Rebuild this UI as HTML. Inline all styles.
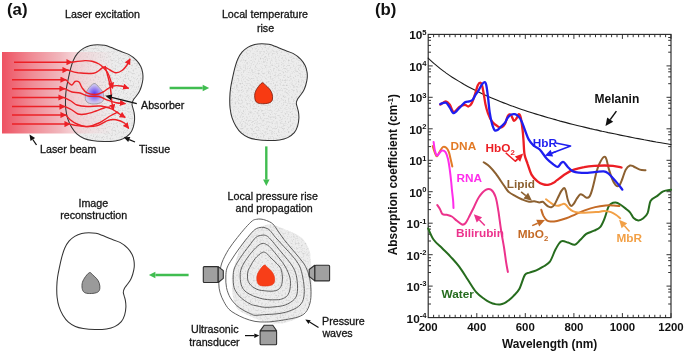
<!DOCTYPE html>
<html><head><meta charset="utf-8"><title>Photoacoustic imaging</title>
<style>html,body{margin:0;padding:0;background:#fff;width:685px;height:353px;overflow:hidden}svg{display:block;filter:blur(0.35px)}</style>
</head><body>
<svg width="685" height="353" viewBox="0 0 685 353">
<defs>
<linearGradient id="beam" x1="0" y1="0" x2="1" y2="0">
<stop offset="0" stop-color="rgb(238,82,98)"/>
<stop offset="0.27" stop-color="rgb(240,140,150)"/>
<stop offset="0.52" stop-color="rgb(241,183,189)"/>
<stop offset="0.66" stop-color="rgb(242,196,201)" stop-opacity="0.7"/>
<stop offset="1" stop-color="rgb(242,205,210)" stop-opacity="0"/>
</linearGradient>
<radialGradient id="abs" cx="0.5" cy="0.5" r="0.55">
<stop offset="0" stop-color="rgb(85,55,245)"/>
<stop offset="0.35" stop-color="rgb(140,115,240)"/>
<stop offset="0.75" stop-color="rgb(200,190,238)"/>
<stop offset="1" stop-color="rgb(215,208,235)"/>
</radialGradient>
<filter id="speck" x="0" y="0" width="1" height="1">
<feTurbulence type="fractalNoise" baseFrequency="0.6" numOctaves="2" seed="3" result="n"/>
<feColorMatrix in="n" type="matrix" values="0 0 0 0 0.55  0 0 0 0 0.55  0 0 0 0 0.55  0 0 0 -2.0 1.05" result="m"/>
<feComposite in="m" in2="SourceGraphic" operator="in" result="c"/>
<feMerge><feMergeNode in="SourceGraphic"/><feMergeNode in="c"/></feMerge>
</filter>
<marker id="ar" viewBox="0 0 10 10" refX="9" refY="5" markerWidth="6.6" markerHeight="6.2" orient="auto-start-reverse" markerUnits="userSpaceOnUse"><path d="M0,0 L10,5 L0,10 z" fill="rgb(236,32,38)"/></marker>
</defs>
<rect width="685" height="353" fill="#fff"/>
<path d="M97.5,44.7 C99.9,44.7 102.4,44.9 104.6,45.3 C106.8,45.7 108.4,46.4 110.7,47.3 C113.0,48.2 115.5,49.4 118.5,50.6 C121.5,51.8 125.7,52.8 128.7,54.4 C131.7,56.0 134.3,58.1 136.3,60.1 C138.3,62.1 139.7,64.4 140.8,66.5 C141.9,68.6 142.3,70.8 142.7,72.9 C143.0,75.0 143.1,77.1 142.9,79.3 C142.7,81.5 142.1,84.0 141.5,86.0 C140.9,88.0 140.4,89.5 139.5,91.2 C138.6,92.9 137.4,94.5 136.3,96.0 C135.2,97.5 133.9,98.8 133.2,100.2 C132.5,101.6 132.0,102.9 132.0,104.3 C132.0,105.7 132.7,107.0 133.0,108.4 C133.3,109.8 133.8,110.8 134.1,112.6 C134.4,114.4 134.7,116.6 134.6,119.0 C134.5,121.4 134.1,124.6 133.3,127.1 C132.5,129.5 131.7,131.8 130.0,133.7 C128.3,135.6 125.9,137.4 123.4,138.6 C120.9,139.8 118.5,140.4 115.2,140.9 C111.9,141.4 107.6,141.6 103.7,141.5 C99.8,141.4 95.2,141.0 91.9,140.5 C88.6,140.0 86.6,139.6 84.1,138.5 C81.6,137.4 79.2,136.1 77.1,134.2 C75.0,132.3 73.2,129.8 71.6,127.2 C70.0,124.6 68.7,121.6 67.7,118.6 C66.7,115.6 66.2,112.5 65.8,109.2 C65.4,105.9 65.4,101.9 65.5,98.5 C65.6,95.1 65.8,92.3 66.3,89.0 C66.8,85.7 67.6,82.1 68.3,78.7 C69.0,75.3 69.8,71.8 70.6,68.7 C71.4,65.6 72.2,62.8 73.4,60.2 C74.6,57.6 76.0,55.2 77.7,53.2 C79.4,51.2 81.3,49.7 83.4,48.4 C85.5,47.1 88.0,46.1 90.4,45.5 C92.7,44.9 95.1,44.7 97.5,44.7Z" fill="#ededed" stroke="none" filter="url(#speck)"/>
<rect x="2" y="52" width="112" height="81.5" fill="url(#beam)"/>
<path d="M97.5,44.7 C99.9,44.7 102.4,44.9 104.6,45.3 C106.8,45.7 108.4,46.4 110.7,47.3 C113.0,48.2 115.5,49.4 118.5,50.6 C121.5,51.8 125.7,52.8 128.7,54.4 C131.7,56.0 134.3,58.1 136.3,60.1 C138.3,62.1 139.7,64.4 140.8,66.5 C141.9,68.6 142.3,70.8 142.7,72.9 C143.0,75.0 143.1,77.1 142.9,79.3 C142.7,81.5 142.1,84.0 141.5,86.0 C140.9,88.0 140.4,89.5 139.5,91.2 C138.6,92.9 137.4,94.5 136.3,96.0 C135.2,97.5 133.9,98.8 133.2,100.2 C132.5,101.6 132.0,102.9 132.0,104.3 C132.0,105.7 132.7,107.0 133.0,108.4 C133.3,109.8 133.8,110.8 134.1,112.6 C134.4,114.4 134.7,116.6 134.6,119.0 C134.5,121.4 134.1,124.6 133.3,127.1 C132.5,129.5 131.7,131.8 130.0,133.7 C128.3,135.6 125.9,137.4 123.4,138.6 C120.9,139.8 118.5,140.4 115.2,140.9 C111.9,141.4 107.6,141.6 103.7,141.5 C99.8,141.4 95.2,141.0 91.9,140.5 C88.6,140.0 86.6,139.6 84.1,138.5 C81.6,137.4 79.2,136.1 77.1,134.2 C75.0,132.3 73.2,129.8 71.6,127.2 C70.0,124.6 68.7,121.6 67.7,118.6 C66.7,115.6 66.2,112.5 65.8,109.2 C65.4,105.9 65.4,101.9 65.5,98.5 C65.6,95.1 65.8,92.3 66.3,89.0 C66.8,85.7 67.6,82.1 68.3,78.7 C69.0,75.3 69.8,71.8 70.6,68.7 C71.4,65.6 72.2,62.8 73.4,60.2 C74.6,57.6 76.0,55.2 77.7,53.2 C79.4,51.2 81.3,49.7 83.4,48.4 C85.5,47.1 88.0,46.1 90.4,45.5 C92.7,44.9 95.1,44.7 97.5,44.7Z" fill="none" stroke="#333" stroke-width="1.05"/>
<path d="M94.0,83.5 C95.9,83.1 97.5,85.8 99.0,87.3 C100.5,88.8 102.2,90.8 103.0,92.8 C103.8,94.8 104.0,97.6 103.6,99.3 C103.2,101.0 102.3,102.0 100.5,102.8 C98.7,103.6 95.2,104.1 93.0,104.0 C90.8,103.9 88.3,103.2 87.0,102.0 C85.7,100.8 85.1,99.1 85.2,97.0 C85.3,94.9 86.3,91.8 87.8,89.5 C89.3,87.2 92.1,83.9 94.0,83.5Z" fill="url(#abs)" stroke="#909098" stroke-width="0.8"/>
<path d="M14.0,62.2 L72.0,62.2" stroke="rgb(236,32,38)" stroke-width="1.5" marker-end="url(#ar)"/>
<path d="M14.0,70.0 L68.0,70.0" stroke="rgb(236,32,38)" stroke-width="1.5" marker-end="url(#ar)"/>
<path d="M12.0,79.7 L66.0,79.7" stroke="rgb(236,32,38)" stroke-width="1.5" marker-end="url(#ar)"/>
<path d="M12.0,88.7 L65.0,88.7" stroke="rgb(236,32,38)" stroke-width="1.5" marker-end="url(#ar)"/>
<path d="M12.0,97.5 L64.0,97.5" stroke="rgb(236,32,38)" stroke-width="1.5" marker-end="url(#ar)"/>
<path d="M12.0,106.6 L65.0,106.6" stroke="rgb(236,32,38)" stroke-width="1.5" marker-end="url(#ar)"/>
<path d="M12.0,115.0 L66.0,115.0" stroke="rgb(236,32,38)" stroke-width="1.5" marker-end="url(#ar)"/>
<path d="M12.0,124.1 L70.0,124.1" stroke="rgb(236,32,38)" stroke-width="1.5" marker-end="url(#ar)"/>
<path d="M72.0,62.2 C74.2,61.9 81.7,60.8 85.0,60.6 C88.3,60.5 89.7,60.7 92.0,61.3 C94.3,61.9 97.1,62.9 99.0,64.0 C100.9,65.1 102.0,66.3 103.4,67.7 C104.8,69.1 106.4,70.5 107.6,72.5 C108.8,74.5 109.7,77.4 110.5,80.0 C111.3,82.6 112.2,86.9 112.6,88.3" fill="none" stroke="rgb(236,32,38)" stroke-width="1.4" marker-end="url(#ar)"/>
<path d="M68.0,70.0 C69.7,70.5 73.8,72.2 78.0,72.8 C82.2,73.3 90.0,73.7 93.5,73.3 C97.0,72.9 97.2,71.5 99.0,70.5 C100.8,69.5 102.2,67.1 104.0,67.0 C105.8,66.9 108.0,69.0 110.0,70.0 C112.0,71.0 114.0,72.7 116.0,72.8 C118.0,72.9 120.2,71.8 122.0,70.5 C123.8,69.2 125.7,67.0 127.0,65.0 C128.3,63.0 129.5,59.8 130.0,58.8" fill="none" stroke="rgb(236,32,38)" stroke-width="1.4" marker-end="url(#ar)"/>
<path d="M66.0,79.7 C66.9,80.6 70.0,84.7 71.5,85.0 C73.0,85.3 73.8,82.0 75.0,81.5 C76.2,81.0 77.8,81.0 79.0,82.0 C80.2,83.0 80.7,85.9 82.0,87.7 C83.3,89.5 84.7,91.7 87.0,92.8 C89.3,93.9 92.9,94.6 95.6,94.5 C98.3,94.4 100.9,93.0 103.0,92.0 C105.1,91.0 106.3,89.6 108.0,88.6 C109.7,87.6 110.8,86.4 113.0,86.0 C115.2,85.6 118.4,85.6 121.0,86.0 C123.6,86.4 127.4,87.9 128.7,88.3" fill="none" stroke="rgb(236,32,38)" stroke-width="1.4" marker-end="url(#ar)"/>
<path d="M65.0,88.7 C66.2,89.2 69.5,91.3 72.0,92.0 C74.5,92.7 77.3,92.3 80.0,93.0 C82.7,93.7 84.8,95.4 88.0,96.0 C91.2,96.6 95.8,95.8 99.0,96.5 C102.2,97.2 104.7,99.2 107.5,100.2 C110.3,101.2 113.0,102.1 116.0,102.7 C119.0,103.3 123.9,103.4 125.5,103.6" fill="none" stroke="rgb(236,32,38)" stroke-width="1.4" marker-end="url(#ar)"/>
<path d="M105.0,66.0 C105.4,67.5 106.7,71.8 107.5,75.0 C108.3,78.2 109.4,81.7 110.0,85.0 C110.6,88.3 110.9,92.2 111.2,95.0 C111.5,97.8 111.4,99.5 111.8,102.0 C112.2,104.5 113.2,108.7 113.5,110.0" fill="none" stroke="rgb(236,32,38)" stroke-width="1.4" marker-end="url(#ar)"/>
<path d="M64.0,97.5 C65.2,98.1 68.8,99.8 71.0,101.0 C73.2,102.2 74.3,104.1 77.0,105.0 C79.7,105.9 83.0,106.3 87.0,106.5 C91.0,106.7 96.7,105.6 100.7,106.0 C104.7,106.4 107.9,107.4 111.0,108.7 C114.1,110.0 117.0,112.3 119.4,113.8 C121.8,115.2 124.3,116.8 125.3,117.4" fill="none" stroke="rgb(236,32,38)" stroke-width="1.4" marker-end="url(#ar)"/>
<path d="M65.0,106.6 C66.2,107.2 69.8,108.8 72.0,110.0 C74.2,111.2 75.7,113.3 78.0,114.0 C80.3,114.7 83.0,114.5 86.0,114.0 C89.0,113.5 93.0,112.0 96.0,111.0 C99.0,110.0 101.7,108.7 104.0,108.0 C106.3,107.3 109.0,107.2 110.0,107.0" fill="none" stroke="rgb(236,32,38)" stroke-width="1.4" />
<path d="M66.0,115.0 C66.7,115.8 68.4,118.2 70.2,119.7 C72.0,121.2 74.5,122.9 77.0,124.0 C79.5,125.1 82.1,126.2 85.5,126.5 C88.9,126.8 93.7,126.6 97.4,125.6 C101.1,124.6 104.4,121.6 107.5,120.6 C110.6,119.6 113.2,119.3 116.0,119.7 C118.8,120.1 122.4,121.5 124.5,123.0 C126.6,124.5 128.0,127.6 128.7,128.5" fill="none" stroke="rgb(236,32,38)" stroke-width="1.4" marker-end="url(#ar)"/>
<path d="M70.0,124.1 C71.2,124.3 74.0,125.2 77.0,125.6 C80.0,126.0 84.3,126.9 88.0,126.5 C91.7,126.1 95.2,124.8 99.0,123.0 C102.8,121.2 107.8,117.3 111.0,115.5 C114.2,113.7 116.8,112.6 118.0,112.0" fill="none" stroke="rgb(236,32,38)" stroke-width="1.4" />
<path d="M136.8,103.6 L111.6,97.4" stroke="#111" stroke-width="1.30" fill="none"/><path d="M105.3,95.8 L112.3,94.5 L110.9,100.3 Z" fill="#111"/>
<path d="M135.0,142.0 L129.2,139.6" stroke="#111" stroke-width="1.30" fill="none"/><path d="M123.7,137.3 L130.3,137.1 L128.2,142.1 Z" fill="#111"/>
<path d="M36.5,145.0 L32.8,139.5" stroke="#111" stroke-width="1.30" fill="none"/><path d="M29.5,134.5 L35.1,138.0 L30.5,141.0 Z" fill="#111"/>
<text x="7.0" y="14.6" style='font-family:"Liberation Sans",Arial,sans-serif;font-size:16.8px;font-weight:bold;fill:#111' text-anchor="start">(a)</text>
<text x="102.5" y="18.1" style='font-family:"Liberation Sans",Arial,sans-serif;font-size:10.7px;font-weight:normal;fill:#151515;stroke:#151515;stroke-width:0.3px' text-anchor="middle">Laser excitation</text>
<text x="141.0" y="108.5" style='font-family:"Liberation Sans",Arial,sans-serif;font-size:10.7px;font-weight:normal;fill:#151515;stroke:#151515;stroke-width:0.3px' text-anchor="start">Absorber</text>
<text x="139.0" y="152.5" style='font-family:"Liberation Sans",Arial,sans-serif;font-size:10.7px;font-weight:normal;fill:#151515;stroke:#151515;stroke-width:0.3px' text-anchor="start">Tissue</text>
<text x="40.0" y="152.7" style='font-family:"Liberation Sans",Arial,sans-serif;font-size:10.7px;font-weight:normal;fill:#151515;stroke:#151515;stroke-width:0.3px' text-anchor="start">Laser beam</text>
<path d="M261.8,43.7 C264.2,43.7 266.7,43.9 268.9,44.3 C271.1,44.7 272.7,45.4 275.0,46.3 C277.3,47.2 279.8,48.4 282.8,49.6 C285.8,50.8 290.0,51.8 293.0,53.4 C296.0,55.0 298.6,57.1 300.6,59.1 C302.6,61.1 304.0,63.4 305.1,65.5 C306.2,67.6 306.6,69.8 307.0,71.9 C307.4,74.0 307.4,76.1 307.2,78.3 C307.0,80.5 306.4,83.0 305.8,85.0 C305.2,87.0 304.7,88.5 303.8,90.2 C302.9,91.9 301.7,93.5 300.6,95.0 C299.6,96.5 298.2,97.8 297.5,99.2 C296.8,100.6 296.3,101.9 296.3,103.3 C296.3,104.7 297.0,106.0 297.3,107.4 C297.6,108.8 298.1,109.8 298.4,111.6 C298.7,113.4 299.0,115.6 298.9,118.0 C298.8,120.4 298.4,123.6 297.6,126.1 C296.8,128.5 296.0,130.8 294.3,132.7 C292.6,134.6 290.2,136.4 287.7,137.6 C285.2,138.8 282.8,139.4 279.5,139.9 C276.2,140.4 271.9,140.6 268.0,140.5 C264.1,140.4 259.5,140.0 256.2,139.5 C252.9,139.0 250.9,138.6 248.4,137.5 C245.9,136.4 243.5,135.1 241.4,133.2 C239.3,131.3 237.5,128.8 235.9,126.2 C234.3,123.6 233.0,120.6 232.0,117.6 C231.0,114.6 230.5,111.5 230.1,108.2 C229.7,104.9 229.7,100.9 229.8,97.5 C229.9,94.1 230.1,91.3 230.6,88.0 C231.1,84.7 231.9,81.1 232.6,77.7 C233.3,74.3 234.1,70.8 234.9,67.7 C235.8,64.6 236.5,61.8 237.7,59.2 C238.9,56.6 240.3,54.2 242.0,52.2 C243.7,50.2 245.6,48.7 247.7,47.4 C249.8,46.1 252.3,45.1 254.7,44.5 C257.1,43.9 259.4,43.7 261.8,43.7Z" fill="#ededed" stroke="none" filter="url(#speck)"/>
<path d="M261.8,43.7 C264.2,43.7 266.7,43.9 268.9,44.3 C271.1,44.7 272.7,45.4 275.0,46.3 C277.3,47.2 279.8,48.4 282.8,49.6 C285.8,50.8 290.0,51.8 293.0,53.4 C296.0,55.0 298.6,57.1 300.6,59.1 C302.6,61.1 304.0,63.4 305.1,65.5 C306.2,67.6 306.6,69.8 307.0,71.9 C307.4,74.0 307.4,76.1 307.2,78.3 C307.0,80.5 306.4,83.0 305.8,85.0 C305.2,87.0 304.7,88.5 303.8,90.2 C302.9,91.9 301.7,93.5 300.6,95.0 C299.6,96.5 298.2,97.8 297.5,99.2 C296.8,100.6 296.3,101.9 296.3,103.3 C296.3,104.7 297.0,106.0 297.3,107.4 C297.6,108.8 298.1,109.8 298.4,111.6 C298.7,113.4 299.0,115.6 298.9,118.0 C298.8,120.4 298.4,123.6 297.6,126.1 C296.8,128.5 296.0,130.8 294.3,132.7 C292.6,134.6 290.2,136.4 287.7,137.6 C285.2,138.8 282.8,139.4 279.5,139.9 C276.2,140.4 271.9,140.6 268.0,140.5 C264.1,140.4 259.5,140.0 256.2,139.5 C252.9,139.0 250.9,138.6 248.4,137.5 C245.9,136.4 243.5,135.1 241.4,133.2 C239.3,131.3 237.5,128.8 235.9,126.2 C234.3,123.6 233.0,120.6 232.0,117.6 C231.0,114.6 230.5,111.5 230.1,108.2 C229.7,104.9 229.7,100.9 229.8,97.5 C229.9,94.1 230.1,91.3 230.6,88.0 C231.1,84.7 231.9,81.1 232.6,77.7 C233.3,74.3 234.1,70.8 234.9,67.7 C235.8,64.6 236.5,61.8 237.7,59.2 C238.9,56.6 240.3,54.2 242.0,52.2 C243.7,50.2 245.6,48.7 247.7,47.4 C249.8,46.1 252.3,45.1 254.7,44.5 C257.1,43.9 259.4,43.7 261.8,43.7Z" fill="none" stroke="#333" stroke-width="1.05"/>
<path d="M262.2,82.8 C263.6,82.3 264.3,84.2 265.5,85.2 C266.7,86.2 268.4,87.6 269.5,89.0 C270.6,90.4 271.5,91.8 272.0,93.5 C272.5,95.2 272.8,97.5 272.5,99.0 C272.2,100.5 271.7,101.6 270.3,102.4 C268.9,103.2 266.1,103.6 264.0,103.7 C261.9,103.8 259.5,103.7 258.0,103.1 C256.5,102.5 255.7,101.5 255.2,100.0 C254.7,98.5 254.5,96.0 254.8,94.0 C255.1,92.0 256.0,90.2 257.2,88.3 C258.4,86.4 260.8,83.3 262.2,82.8Z" fill="rgb(248,58,18)" stroke="#7a1c0c" stroke-width="0.8"/>
<text x="265.0" y="18.1" style='font-family:"Liberation Sans",Arial,sans-serif;font-size:10.7px;font-weight:normal;fill:#151515;stroke:#151515;stroke-width:0.3px' text-anchor="middle">Local temperature</text>
<text x="265.5" y="31.6" style='font-family:"Liberation Sans",Arial,sans-serif;font-size:10.7px;font-weight:normal;fill:#151515;stroke:#151515;stroke-width:0.3px' text-anchor="middle">rise</text>
<path d="M169.6,88.0 L202.7,88.0" stroke="rgb(64,189,80)" stroke-width="2.40" fill="none"/><path d="M209.2,88.0 L202.7,91.2 L202.7,84.8 Z" fill="rgb(64,189,80)"/>
<path d="M266.3,146.4 L266.3,179.6" stroke="rgb(64,189,80)" stroke-width="2.40" fill="none"/><path d="M266.3,186.1 L263.1,179.6 L269.6,179.6 Z" fill="rgb(64,189,80)"/>
<path d="M188.6,275.0 L155.4,275.0" stroke="rgb(64,189,80)" stroke-width="2.40" fill="none"/><path d="M148.9,275.0 L155.4,271.8 L155.4,278.2 Z" fill="rgb(64,189,80)"/>
<path d="M88.8,232.7 C91.2,232.7 93.7,232.9 95.9,233.3 C98.1,233.7 99.7,234.4 102.0,235.3 C104.3,236.2 106.8,237.4 109.8,238.6 C112.8,239.8 117.0,240.8 120.0,242.4 C123.0,244.0 125.6,246.1 127.6,248.1 C129.6,250.1 131.0,252.4 132.1,254.5 C133.2,256.6 133.7,258.8 134.0,260.9 C134.3,263.0 134.4,265.1 134.2,267.3 C134.0,269.5 133.4,272.0 132.8,274.0 C132.2,276.0 131.7,277.5 130.8,279.2 C129.9,280.9 128.7,282.5 127.6,284.0 C126.6,285.5 125.2,286.8 124.5,288.2 C123.8,289.6 123.3,290.9 123.3,292.3 C123.3,293.7 124.0,295.0 124.3,296.4 C124.7,297.8 125.1,298.8 125.4,300.6 C125.7,302.4 126.0,304.6 125.9,307.0 C125.8,309.4 125.4,312.7 124.6,315.1 C123.8,317.6 123.0,319.8 121.3,321.7 C119.7,323.6 117.2,325.4 114.7,326.6 C112.2,327.8 109.8,328.4 106.5,328.9 C103.2,329.4 98.9,329.6 95.0,329.5 C91.1,329.4 86.5,329.0 83.2,328.5 C79.9,328.0 77.9,327.6 75.4,326.5 C72.9,325.4 70.5,324.1 68.4,322.2 C66.3,320.3 64.5,317.8 62.9,315.2 C61.3,312.6 60.0,309.6 59.0,306.6 C58.0,303.6 57.5,300.6 57.1,297.2 C56.7,293.8 56.7,289.9 56.8,286.5 C56.9,283.1 57.1,280.3 57.6,277.0 C58.1,273.7 58.9,270.1 59.6,266.7 C60.3,263.3 61.1,259.8 61.9,256.7 C62.8,253.6 63.5,250.8 64.7,248.2 C65.9,245.6 67.3,243.2 69.0,241.2 C70.7,239.2 72.6,237.7 74.7,236.4 C76.8,235.1 79.3,234.1 81.7,233.5 C84.0,232.9 86.4,232.7 88.8,232.7Z" fill="#fff" stroke="#333" stroke-width="1.05"/>
<path d="M89.5,272.6 C90.9,272.1 91.6,274.0 92.8,275.0 C94.0,276.0 95.7,277.4 96.8,278.8 C97.9,280.2 98.8,281.6 99.3,283.3 C99.8,285.0 100.1,287.3 99.8,288.8 C99.5,290.3 99.0,291.4 97.6,292.2 C96.2,293.0 93.4,293.4 91.3,293.5 C89.3,293.6 86.8,293.5 85.3,292.9 C83.8,292.3 83.0,291.3 82.5,289.8 C82.0,288.3 81.8,285.8 82.1,283.8 C82.4,281.9 83.3,280.0 84.5,278.1 C85.7,276.2 88.1,273.1 89.5,272.6Z" fill="#9a9a9a" stroke="#4a4a4a" stroke-width="0.9"/>
<text x="93.3" y="206.8" style='font-family:"Liberation Sans",Arial,sans-serif;font-size:10.7px;font-weight:normal;fill:#151515;stroke:#151515;stroke-width:0.3px' text-anchor="middle">Image</text>
<text x="93.7" y="219.2" style='font-family:"Liberation Sans",Arial,sans-serif;font-size:10.7px;font-weight:normal;fill:#151515;stroke:#151515;stroke-width:0.3px' text-anchor="middle">reconstruction</text>
<text x="272.7" y="199.9" style='font-family:"Liberation Sans",Arial,sans-serif;font-size:10.7px;font-weight:normal;fill:#151515;stroke:#151515;stroke-width:0.3px' text-anchor="middle">Local pressure rise</text>
<text x="274.2" y="212.0" style='font-family:"Liberation Sans",Arial,sans-serif;font-size:10.7px;font-weight:normal;fill:#151515;stroke:#151515;stroke-width:0.3px' text-anchor="middle">and propagation</text>
<path d="M266.0,224.9 C268.4,224.2 269.2,223.9 272.2,224.6 C275.2,225.3 280.1,227.4 284.1,229.0 C288.1,230.6 292.6,232.1 296.0,234.1 C299.4,236.1 302.2,238.1 304.5,240.9 C306.8,243.7 308.6,248.0 309.6,251.1 C310.6,254.2 310.3,256.8 310.6,259.6 C310.9,262.4 311.2,263.8 311.5,268.0 C311.8,272.2 312.4,279.3 312.1,285.0 C311.8,290.7 311.1,297.5 309.8,302.0 C308.5,306.5 307.1,309.2 304.5,312.2 C301.9,315.2 298.6,317.9 294.3,319.8 C290.1,321.7 284.3,323.4 279.0,323.6 C273.7,323.8 267.6,322.3 262.6,321.0 C257.6,319.7 253.2,317.8 249.0,315.8 C244.8,313.8 240.2,312.1 237.5,309.0 C234.8,305.9 233.9,301.2 233.0,297.0 C232.1,292.8 231.9,287.8 231.8,284.0 C231.7,280.2 231.8,277.3 232.3,274.0 C232.8,270.7 233.6,268.5 235.0,264.0 C236.4,259.5 238.2,251.8 240.5,247.0 C242.8,242.2 246.2,238.6 249.0,235.5 C251.8,232.4 254.7,230.3 257.5,228.5 C260.3,226.7 263.6,225.6 266.0,224.9Z" fill="#ededed" stroke="none" filter="url(#speck)"/>
<path d="M261.0,219.1 C262.7,219.3 264.5,219.7 266.5,220.5 C268.5,221.3 270.9,222.2 272.8,223.9 C274.7,225.7 276.1,228.4 278.0,231.0 C279.9,233.6 281.8,236.7 284.0,239.5 C286.2,242.3 288.4,244.9 291.0,248.0 C293.6,251.1 297.0,254.8 299.4,257.9 C301.8,261.0 303.8,263.0 305.5,266.4 C307.2,269.8 308.8,273.8 309.7,278.0 C310.6,282.2 310.9,287.4 311.0,291.6 C311.1,295.8 310.9,299.5 310.0,303.0 C309.1,306.5 307.5,310.2 305.5,312.5 C303.5,314.8 301.4,315.8 298.0,317.0 C294.6,318.2 289.5,318.9 285.2,319.7 C280.9,320.5 275.4,321.2 272.0,321.6 C268.6,322.0 267.6,322.0 264.8,322.0 C262.0,322.0 258.4,322.0 255.0,321.4 C251.6,320.8 247.6,319.5 244.3,318.2 C241.0,316.9 238.0,315.3 235.4,313.8 C232.8,312.3 230.9,311.3 229.0,309.3 C227.1,307.3 225.4,304.5 223.9,301.7 C222.4,298.9 220.9,295.7 220.1,292.7 C219.2,289.7 218.9,286.8 218.8,283.8 C218.7,280.9 219.0,278.5 219.5,275.0 C220.0,271.5 220.3,267.3 221.8,263.0 C223.3,258.7 226.0,253.7 228.6,249.4 C231.2,245.2 234.6,241.1 237.4,237.5 C240.2,233.9 243.1,230.4 245.6,227.6 C248.1,224.8 250.6,222.2 252.4,220.8 C254.2,219.4 255.1,219.6 256.5,219.3 C257.9,219.0 259.3,218.9 261.0,219.1Z" fill="none" stroke="#5a5a5a" stroke-width="0.95"/>
<path d="M261.5,227.3 C263.3,227.1 264.6,227.6 266.0,228.1 C267.4,228.6 268.4,228.9 270.0,230.5 C271.6,232.1 273.2,234.8 275.6,237.5 C278.0,240.2 281.3,243.7 284.1,246.8 C286.9,249.9 290.0,253.0 292.6,256.2 C295.2,259.4 297.8,262.4 299.5,266.0 C301.2,269.6 302.1,273.7 302.9,278.0 C303.7,282.3 304.4,287.7 304.3,291.6 C304.2,295.5 303.8,298.8 302.5,301.5 C301.2,304.2 299.4,306.0 296.5,307.8 C293.6,309.6 288.8,311.4 285.2,312.4 C281.6,313.4 278.4,313.6 275.0,314.0 C271.6,314.4 268.1,314.4 264.8,314.6 C261.5,314.8 257.4,315.4 255.0,315.3 C252.7,315.2 252.7,314.7 250.7,313.8 C248.7,312.9 245.3,311.4 243.0,310.0 C240.7,308.6 238.8,307.5 236.7,305.5 C234.6,303.5 232.0,300.8 230.3,297.8 C228.6,294.8 227.2,291.1 226.5,287.6 C225.8,284.1 225.7,280.3 225.8,277.0 C225.9,273.7 226.0,271.0 227.0,268.0 C228.0,265.0 230.0,262.2 232.0,259.0 C234.0,255.8 236.2,252.6 238.8,249.0 C241.4,245.4 244.9,240.8 247.6,237.5 C250.3,234.2 252.7,231.2 255.0,229.5 C257.3,227.8 259.7,227.5 261.5,227.3Z" fill="none" stroke="#5a5a5a" stroke-width="0.95"/>
<path d="M262.0,235.2 C263.8,234.9 265.1,235.1 266.5,235.8 C267.9,236.5 268.4,236.9 270.5,239.2 C272.6,241.5 276.2,246.0 279.0,249.4 C281.8,252.8 285.1,256.5 287.5,259.6 C289.9,262.7 291.9,264.9 293.5,268.0 C295.1,271.1 296.2,274.1 296.8,278.0 C297.4,281.9 297.8,288.1 297.4,291.6 C297.0,295.2 296.3,297.1 294.3,299.3 C292.3,301.5 288.4,303.8 285.2,305.0 C282.0,306.2 278.4,306.4 275.0,306.8 C271.6,307.2 268.1,307.5 264.8,307.3 C261.5,307.1 257.4,306.0 255.0,305.5 C252.7,305.0 252.5,305.1 250.7,304.2 C248.9,303.3 246.3,301.9 244.3,300.4 C242.3,298.9 240.3,297.4 238.6,295.3 C236.9,293.2 235.0,290.7 234.1,287.6 C233.2,284.6 233.1,280.3 233.2,277.0 C233.3,273.7 233.3,271.2 234.5,268.0 C235.7,264.8 238.1,261.2 240.5,257.5 C242.9,253.8 246.4,249.3 249.0,246.0 C251.6,242.7 253.6,239.3 255.8,237.5 C258.0,235.7 260.2,235.5 262.0,235.2Z" fill="none" stroke="#5a5a5a" stroke-width="0.95"/>
<path d="M262.0,243.5 C263.8,243.0 265.1,243.8 266.5,244.5 C267.9,245.2 268.4,245.5 270.5,247.7 C272.6,249.9 276.5,254.7 279.0,257.9 C281.5,261.1 283.7,263.6 285.5,267.0 C287.3,270.4 289.2,274.4 290.0,278.0 C290.8,281.6 290.5,285.9 290.0,288.9 C289.5,291.8 288.6,294.0 287.2,295.7 C285.8,297.4 283.8,298.3 281.8,299.0 C279.8,299.7 277.8,299.8 275.0,299.8 C272.2,299.9 268.1,299.8 264.8,299.3 C261.5,298.8 257.1,297.3 255.0,296.6 C252.9,295.9 253.5,296.1 252.0,295.3 C250.5,294.6 247.9,293.6 246.2,292.1 C244.5,290.6 242.8,288.9 241.8,286.4 C240.8,283.9 240.2,280.1 240.2,277.0 C240.1,273.9 240.3,271.2 241.5,268.0 C242.7,264.8 244.9,261.3 247.3,257.9 C249.7,254.5 253.4,250.1 255.8,247.7 C258.2,245.3 260.2,244.0 262.0,243.5Z" fill="none" stroke="#5a5a5a" stroke-width="0.95"/>
<path d="M262.2,252.5 C264.1,251.6 265.0,252.4 266.5,253.3 C268.0,254.2 269.2,256.2 271.0,258.0 C272.8,259.8 275.4,262.0 277.0,263.8 C278.6,265.6 279.9,266.4 280.8,268.6 C281.7,270.8 282.3,274.3 282.4,277.0 C282.5,279.7 282.3,282.7 281.6,284.8 C280.9,286.9 280.0,288.4 278.4,289.5 C276.8,290.6 274.3,291.0 272.0,291.2 C269.7,291.4 267.0,291.0 264.8,290.8 C262.6,290.6 260.6,290.4 259.0,290.0 C257.4,289.6 256.4,289.1 255.0,288.3 C253.6,287.5 251.9,286.5 250.7,285.1 C249.5,283.7 248.3,282.2 247.8,280.0 C247.3,277.8 247.4,274.3 247.8,272.0 C248.2,269.7 249.3,268.2 250.5,266.0 C251.7,263.8 253.2,260.8 255.2,258.5 C257.1,256.2 260.3,253.4 262.2,252.5Z" fill="none" stroke="#5a5a5a" stroke-width="0.95"/>
<path d="M264.3,265.1 C265.7,264.6 266.4,266.5 267.6,267.5 C268.8,268.5 270.5,269.9 271.6,271.3 C272.7,272.7 273.6,274.1 274.1,275.8 C274.6,277.5 274.9,279.8 274.6,281.3 C274.3,282.8 273.8,283.9 272.4,284.7 C271.0,285.5 268.2,285.9 266.1,286.0 C264.1,286.1 261.6,286.0 260.1,285.4 C258.6,284.8 257.8,283.8 257.3,282.3 C256.8,280.8 256.6,278.2 256.9,276.3 C257.2,274.4 258.1,272.5 259.3,270.6 C260.5,268.7 262.9,265.6 264.3,265.1Z" fill="rgb(248,62,24)" stroke="rgb(225,55,25)" stroke-width="0.6"/>
<rect x="203.3" y="266.6" width="14.9" height="15.9" rx="1" fill="#a0a0a0" stroke="#2e2e2e" stroke-width="1.1" stroke-linejoin="round"/>
<path d="M218.2,266.6 L223.3,270.6 L223.3,278.3 L218.2,282.5 Z" fill="#a4a4a4" stroke="#2e2e2e" stroke-width="1.1" stroke-linejoin="round"/>
<rect x="314.7" y="265.2" width="14.9" height="15.7" rx="1" fill="#a0a0a0" stroke="#2e2e2e" stroke-width="1.1" stroke-linejoin="round"/>
<path d="M314.7,265.2 L309.2,269.5 L309.2,276.3 L314.7,280.9 Z" fill="#a4a4a4" stroke="#2e2e2e" stroke-width="1.1" stroke-linejoin="round"/>
<rect x="260.1" y="330.8" width="16.5" height="13.9" rx="1" fill="#a0a0a0" stroke="#2e2e2e" stroke-width="1.1" stroke-linejoin="round"/>
<path d="M260.1,330.8 L264.3,325.2 L272.8,325.2 L276.6,330.8 Z" fill="#a4a4a4" stroke="#2e2e2e" stroke-width="1.1" stroke-linejoin="round"/>
<path d="M245.0,335.6 L254.3,335.6" stroke="#111" stroke-width="1.20" fill="none"/><path d="M259.3,335.6 L254.3,337.9 L254.3,333.4 Z" fill="#111"/>
<path d="M318.5,327.4 L309.6,322.1" stroke="#111" stroke-width="1.20" fill="none"/><path d="M305.3,319.6 L310.7,320.2 L308.5,324.1 Z" fill="#111"/>
<text x="191.0" y="332.7" style='font-family:"Liberation Sans",Arial,sans-serif;font-size:10.7px;font-weight:normal;fill:#151515;stroke:#151515;stroke-width:0.3px' text-anchor="start">Ultrasonic</text>
<text x="189.2" y="345.5" style='font-family:"Liberation Sans",Arial,sans-serif;font-size:10.7px;font-weight:normal;fill:#151515;stroke:#151515;stroke-width:0.3px' text-anchor="start">transducer</text>
<text x="322.0" y="325.1" style='font-family:"Liberation Sans",Arial,sans-serif;font-size:10.7px;font-weight:normal;fill:#151515;stroke:#151515;stroke-width:0.3px' text-anchor="start">Pressure</text>
<text x="322.4" y="337.3" style='font-family:"Liberation Sans",Arial,sans-serif;font-size:10.7px;font-weight:normal;fill:#151515;stroke:#151515;stroke-width:0.3px' text-anchor="start">waves</text>
<text x="375.0" y="15.0" style='font-family:"Liberation Sans",Arial,sans-serif;font-size:16.8px;font-weight:bold;fill:#111' text-anchor="start">(b)</text>
<path d="M433.6,317.6v-2.8 M433.6,34.4v2.8 M439.0,317.6v-2.8 M439.0,34.4v2.8 M444.4,317.6v-2.8 M444.4,34.4v2.8 M449.8,317.6v-2.8 M449.8,34.4v2.8 M455.2,317.6v-2.8 M455.2,34.4v2.8 M460.6,317.6v-2.8 M460.6,34.4v2.8 M466.0,317.6v-2.8 M466.0,34.4v2.8 M471.4,317.6v-2.8 M471.4,34.4v2.8 M476.8,317.6v-4.5 M476.8,34.4v4.5 M482.2,317.6v-2.8 M482.2,34.4v2.8 M487.6,317.6v-2.8 M487.6,34.4v2.8 M492.9,317.6v-2.8 M492.9,34.4v2.8 M498.3,317.6v-2.8 M498.3,34.4v2.8 M503.7,317.6v-2.8 M503.7,34.4v2.8 M509.1,317.6v-2.8 M509.1,34.4v2.8 M514.5,317.6v-2.8 M514.5,34.4v2.8 M519.9,317.6v-2.8 M519.9,34.4v2.8 M525.3,317.6v-4.5 M525.3,34.4v4.5 M530.7,317.6v-2.8 M530.7,34.4v2.8 M536.1,317.6v-2.8 M536.1,34.4v2.8 M541.5,317.6v-2.8 M541.5,34.4v2.8 M546.9,317.6v-2.8 M546.9,34.4v2.8 M552.3,317.6v-2.8 M552.3,34.4v2.8 M557.7,317.6v-2.8 M557.7,34.4v2.8 M563.1,317.6v-2.8 M563.1,34.4v2.8 M568.5,317.6v-2.8 M568.5,34.4v2.8 M573.9,317.6v-4.5 M573.9,34.4v4.5 M579.3,317.6v-2.8 M579.3,34.4v2.8 M584.7,317.6v-2.8 M584.7,34.4v2.8 M590.1,317.6v-2.8 M590.1,34.4v2.8 M595.5,317.6v-2.8 M595.5,34.4v2.8 M600.9,317.6v-2.8 M600.9,34.4v2.8 M606.3,317.6v-2.8 M606.3,34.4v2.8 M611.6,317.6v-2.8 M611.6,34.4v2.8 M617.0,317.6v-2.8 M617.0,34.4v2.8 M622.4,317.6v-4.5 M622.4,34.4v4.5 M627.8,317.6v-2.8 M627.8,34.4v2.8 M633.2,317.6v-2.8 M633.2,34.4v2.8 M638.6,317.6v-2.8 M638.6,34.4v2.8 M644.0,317.6v-2.8 M644.0,34.4v2.8 M649.4,317.6v-2.8 M649.4,34.4v2.8 M654.8,317.6v-2.8 M654.8,34.4v2.8 M660.2,317.6v-2.8 M660.2,34.4v2.8 M665.6,317.6v-2.8 M665.6,34.4v2.8 M671.0,317.6v-4.5 M671.0,34.4v4.5 M428.2,286.1h4.5 M671.0,286.1h-4.5 M428.2,289.2h2.8 M671.0,289.2h-2.8 M428.2,292.0h2.8 M671.0,292.0h-2.8 M428.2,297.1h2.8 M671.0,297.1h-2.8 M428.2,304.0h2.8 M671.0,304.0h-2.8 M428.2,254.7h4.5 M671.0,254.7h-4.5 M428.2,257.8h2.8 M671.0,257.8h-2.8 M428.2,260.6h2.8 M671.0,260.6h-2.8 M428.2,265.7h2.8 M671.0,265.7h-2.8 M428.2,272.5h2.8 M671.0,272.5h-2.8 M428.2,223.2h4.5 M671.0,223.2h-4.5 M428.2,226.3h2.8 M671.0,226.3h-2.8 M428.2,229.1h2.8 M671.0,229.1h-2.8 M428.2,234.2h2.8 M671.0,234.2h-2.8 M428.2,241.0h2.8 M671.0,241.0h-2.8 M428.2,191.7h4.5 M671.0,191.7h-4.5 M428.2,194.8h2.8 M671.0,194.8h-2.8 M428.2,197.6h2.8 M671.0,197.6h-2.8 M428.2,202.7h2.8 M671.0,202.7h-2.8 M428.2,209.6h2.8 M671.0,209.6h-2.8 M428.2,160.3h4.5 M671.0,160.3h-4.5 M428.2,163.4h2.8 M671.0,163.4h-2.8 M428.2,166.2h2.8 M671.0,166.2h-2.8 M428.2,171.3h2.8 M671.0,171.3h-2.8 M428.2,178.1h2.8 M671.0,178.1h-2.8 M428.2,128.8h4.5 M671.0,128.8h-4.5 M428.2,131.9h2.8 M671.0,131.9h-2.8 M428.2,134.7h2.8 M671.0,134.7h-2.8 M428.2,139.8h2.8 M671.0,139.8h-2.8 M428.2,146.6h2.8 M671.0,146.6h-2.8 M428.2,97.3h4.5 M671.0,97.3h-4.5 M428.2,100.4h2.8 M671.0,100.4h-2.8 M428.2,103.2h2.8 M671.0,103.2h-2.8 M428.2,108.3h2.8 M671.0,108.3h-2.8 M428.2,115.2h2.8 M671.0,115.2h-2.8 M428.2,65.9h4.5 M671.0,65.9h-4.5 M428.2,69.0h2.8 M671.0,69.0h-2.8 M428.2,71.8h2.8 M671.0,71.8h-2.8 M428.2,76.9h2.8 M671.0,76.9h-2.8 M428.2,83.7h2.8 M671.0,83.7h-2.8 M428.2,37.5h2.8 M671.0,37.5h-2.8 M428.2,40.3h2.8 M671.0,40.3h-2.8 M428.2,45.4h2.8 M671.0,45.4h-2.8 M428.2,52.2h2.8 M671.0,52.2h-2.8" stroke="#333" stroke-width="1" fill="none"/>
<rect x="428.2" y="34.4" width="242.8" height="283.2" fill="none" stroke="#2a2a2a" stroke-width="1.15"/>
<text x="428.2" y="330.8" style='font-family:"Liberation Sans",Arial,sans-serif;font-size:11.4px;font-weight:bold;fill:#111' text-anchor="middle">200</text>
<text x="476.8" y="330.8" style='font-family:"Liberation Sans",Arial,sans-serif;font-size:11.4px;font-weight:bold;fill:#111' text-anchor="middle">400</text>
<text x="525.3" y="330.8" style='font-family:"Liberation Sans",Arial,sans-serif;font-size:11.4px;font-weight:bold;fill:#111' text-anchor="middle">600</text>
<text x="573.9" y="330.8" style='font-family:"Liberation Sans",Arial,sans-serif;font-size:11.4px;font-weight:bold;fill:#111' text-anchor="middle">800</text>
<text x="622.4" y="330.8" style='font-family:"Liberation Sans",Arial,sans-serif;font-size:11.4px;font-weight:bold;fill:#111' text-anchor="middle">1000</text>
<text x="671.0" y="330.8" style='font-family:"Liberation Sans",Arial,sans-serif;font-size:11.4px;font-weight:bold;fill:#111' text-anchor="middle">1200</text>
<text x="426.5" y="322.5" style='font-family:"Liberation Sans",Arial,sans-serif;font-size:11.8px;font-weight:bold;fill:#111' text-anchor="end">10<tspan dy="-4.6" style="font-size:7.6px">-4</tspan></text>
<text x="426.5" y="291.0" style='font-family:"Liberation Sans",Arial,sans-serif;font-size:11.8px;font-weight:bold;fill:#111' text-anchor="end">10<tspan dy="-4.6" style="font-size:7.6px">-3</tspan></text>
<text x="426.5" y="259.6" style='font-family:"Liberation Sans",Arial,sans-serif;font-size:11.8px;font-weight:bold;fill:#111' text-anchor="end">10<tspan dy="-4.6" style="font-size:7.6px">-2</tspan></text>
<text x="426.5" y="228.1" style='font-family:"Liberation Sans",Arial,sans-serif;font-size:11.8px;font-weight:bold;fill:#111' text-anchor="end">10<tspan dy="-4.6" style="font-size:7.6px">-1</tspan></text>
<text x="426.5" y="196.6" style='font-family:"Liberation Sans",Arial,sans-serif;font-size:11.8px;font-weight:bold;fill:#111' text-anchor="end">10<tspan dy="-4.6" style="font-size:7.6px">0</tspan></text>
<text x="426.5" y="165.2" style='font-family:"Liberation Sans",Arial,sans-serif;font-size:11.8px;font-weight:bold;fill:#111' text-anchor="end">10<tspan dy="-4.6" style="font-size:7.6px">1</tspan></text>
<text x="426.5" y="133.7" style='font-family:"Liberation Sans",Arial,sans-serif;font-size:11.8px;font-weight:bold;fill:#111' text-anchor="end">10<tspan dy="-4.6" style="font-size:7.6px">2</tspan></text>
<text x="426.5" y="102.2" style='font-family:"Liberation Sans",Arial,sans-serif;font-size:11.8px;font-weight:bold;fill:#111' text-anchor="end">10<tspan dy="-4.6" style="font-size:7.6px">3</tspan></text>
<text x="426.5" y="70.8" style='font-family:"Liberation Sans",Arial,sans-serif;font-size:11.8px;font-weight:bold;fill:#111' text-anchor="end">10<tspan dy="-4.6" style="font-size:7.6px">4</tspan></text>
<text x="426.5" y="39.3" style='font-family:"Liberation Sans",Arial,sans-serif;font-size:11.8px;font-weight:bold;fill:#111' text-anchor="end">10<tspan dy="-4.6" style="font-size:7.6px">5</tspan></text>
<text x="549.6" y="348.0" style='font-family:"Liberation Sans",Arial,sans-serif;font-size:11.9px;font-weight:bold;fill:#111' text-anchor="middle">Wavelength (nm)</text>
<text transform="translate(397.3,174.7) rotate(-90)" style='font-family:"Liberation Sans",Arial,sans-serif;font-size:11.9px;font-weight:bold;fill:#111' text-anchor="middle">Absorption coefficient (cm<tspan dy="-4.5" style="font-size:7.5px">-1</tspan><tspan dy="4.5">)</tspan></text>
<g fill="none" stroke-linejoin="round" stroke-linecap="round">
<path d="M428.2,58.2 C429.2,59.1 432.2,61.9 434.2,63.7 C436.2,65.4 438.2,67.0 440.2,68.6 C442.2,70.2 444.2,71.6 446.2,73.1 C448.2,74.5 450.2,75.9 452.2,77.2 C454.2,78.5 456.2,79.7 458.2,80.9 C460.2,82.2 462.2,83.3 464.2,84.5 C466.2,85.6 468.2,86.7 470.2,87.7 C472.2,88.8 474.2,89.8 476.2,90.8 C478.2,91.8 480.2,92.8 482.2,93.7 C484.2,94.6 486.2,95.5 488.2,96.4 C490.2,97.3 492.2,98.2 494.2,99.0 C496.2,99.9 498.2,100.7 500.2,101.5 C502.2,102.3 504.2,103.1 506.2,103.8 C508.2,104.6 510.2,105.3 512.2,106.1 C514.2,106.8 516.2,107.5 518.2,108.2 C520.2,108.9 522.2,109.6 524.2,110.2 C526.2,110.9 528.2,111.6 530.2,112.2 C532.2,112.9 534.2,113.5 536.2,114.1 C538.2,114.7 540.2,115.3 542.2,115.9 C544.2,116.5 546.2,117.1 548.2,117.7 C550.2,118.3 552.2,118.8 554.2,119.4 C556.2,120.0 558.2,120.5 560.2,121.1 C562.2,121.6 564.2,122.1 566.2,122.6 C568.2,123.2 570.2,123.7 572.2,124.2 C574.2,124.7 576.2,125.2 578.2,125.7 C580.2,126.2 582.2,126.7 584.2,127.1 C586.2,127.6 588.2,128.1 590.2,128.6 C592.2,129.0 594.2,129.5 596.2,129.9 C598.2,130.4 600.2,130.8 602.2,131.3 C604.2,131.7 606.2,132.1 608.2,132.6 C610.2,133.0 612.2,133.4 614.2,133.8 C616.2,134.3 618.2,134.7 620.2,135.1 C622.2,135.5 624.2,135.9 626.2,136.3 C628.2,136.7 630.2,137.1 632.2,137.5 C634.2,137.9 636.2,138.3 638.2,138.6 C640.2,139.0 642.2,139.4 644.2,139.8 C646.2,140.1 648.2,140.5 650.2,140.9 C652.2,141.2 654.2,141.6 656.2,142.0 C658.2,142.3 660.2,142.7 662.2,143.0 C664.2,143.4 666.7,143.8 668.2,144.0 C669.7,144.3 670.5,144.5 671.0,144.5" stroke="#1a1a1a" stroke-width="1.1"/>
<path d="M428.2,228.5 C429.1,230.4 431.4,236.5 433.7,239.8 C436.0,243.1 439.4,245.5 442.2,248.3 C445.0,251.1 447.9,253.7 450.7,256.8 C453.5,259.9 456.4,262.9 459.2,266.7 C462.0,270.5 464.9,275.2 467.7,279.5 C470.5,283.8 473.4,288.9 476.2,292.2 C479.0,295.5 482.4,297.6 484.7,299.3 C487.0,301.0 488.3,301.6 490.0,302.4 C491.7,303.2 493.3,303.8 495.0,304.1 C496.7,304.5 498.4,304.6 500.0,304.5 C501.6,304.4 503.0,303.9 504.5,303.2 C506.0,302.5 507.3,301.4 508.8,300.2 C510.3,299.0 511.9,297.7 513.6,295.8 C515.4,293.9 517.4,292.5 519.3,289.0 C521.2,285.5 523.2,277.6 524.9,274.9 C526.6,272.2 527.6,273.4 529.5,272.6 C531.4,271.9 534.0,271.4 536.3,270.4 C538.6,269.4 540.8,268.1 543.1,266.7 C545.4,265.2 547.8,264.6 549.9,261.7 C552.0,258.8 553.7,252.7 555.6,249.3 C557.5,245.9 559.1,242.4 561.2,241.3 C563.3,240.2 565.7,241.9 568.0,242.5 C570.3,243.1 572.8,245.1 574.8,244.7 C576.8,244.3 578.2,241.9 580.1,240.1 C582.0,238.3 584.0,235.5 586.3,233.9 C588.6,232.3 591.8,231.9 594.1,230.7 C596.5,229.5 598.7,228.8 600.4,226.8 C602.1,224.8 603.1,222.2 604.4,218.9 C605.7,215.6 607.2,209.6 608.3,207.1 C609.4,204.6 609.8,204.6 611.0,203.8 C612.2,203.0 614.1,202.4 615.6,202.5 C617.1,202.6 618.6,203.5 620.2,204.5 C621.8,205.5 623.8,207.1 625.4,208.4 C627.0,209.7 628.6,210.7 630.0,212.3 C631.4,213.9 632.2,216.6 633.6,217.9 C635.0,219.2 636.7,220.3 638.3,220.4 C639.9,220.5 641.5,219.7 643.0,218.5 C644.5,217.3 646.3,216.2 647.6,213.2 C648.9,210.2 649.1,203.5 650.7,200.7 C652.3,197.8 654.9,197.6 657.0,196.1 C659.1,194.6 660.9,192.4 663.2,191.4 C665.5,190.4 669.7,190.1 671.0,189.8" stroke="rgb(38,108,30)" stroke-width="2.0"/>
<path d="M541.3,209.7 C541.6,210.7 542.4,213.8 543.3,215.6 C544.2,217.3 545.4,219.2 546.6,220.2 C547.8,221.2 548.8,221.4 550.5,221.5 C552.2,221.6 554.5,221.4 557.1,220.9 C559.7,220.4 563.2,219.4 566.3,218.3 C569.4,217.2 572.4,215.6 575.5,214.3 C578.6,213.0 581.4,211.6 584.7,210.4 C588.0,209.2 591.7,207.9 595.2,207.1 C598.7,206.3 602.6,205.8 605.7,205.5 C608.8,205.2 611.3,205.4 613.6,205.5 C615.9,205.6 618.5,205.9 619.5,206.0" stroke="rgb(196,106,38)" stroke-width="2.0"/>
<path d="M546.0,199.3 C546.7,199.8 548.7,201.4 550.0,202.3 C551.3,203.2 552.6,204.2 553.9,204.8 C555.2,205.4 556.7,205.8 557.9,205.8 C559.1,205.8 559.9,205.1 560.9,204.8 C561.9,204.5 563.0,203.8 563.8,203.8 C564.6,203.8 565.0,204.1 565.8,204.8 C566.6,205.5 567.6,207.1 568.8,208.2 C570.0,209.3 571.3,210.5 572.8,211.2 C574.3,211.9 575.7,212.2 577.7,212.5 C579.7,212.8 582.1,212.8 584.6,212.7 C587.1,212.6 590.0,212.4 592.6,212.2 C595.2,212.0 598.0,211.9 600.0,211.7 C602.0,211.5 602.6,210.9 604.4,211.0 C606.2,211.1 609.0,211.4 611.0,212.1 C613.0,212.8 614.7,214.0 616.2,215.0 C617.7,216.0 619.5,217.8 620.2,218.3" stroke="rgb(242,160,70)" stroke-width="2.0"/>
<path d="M483.7,162.3 C484.7,163.0 487.8,164.8 489.8,166.7 C491.8,168.6 493.5,170.6 495.8,173.7 C498.1,176.8 501.5,182.0 503.6,185.0 C505.8,188.0 506.7,190.1 508.7,191.9 C510.7,193.8 513.2,194.8 515.5,196.1 C517.8,197.4 520.0,198.6 522.3,199.5 C524.6,200.4 527.1,201.4 529.1,201.7 C531.1,202.0 532.5,201.1 534.2,201.2 C535.9,201.3 537.9,202.3 539.3,202.4 C540.7,202.5 541.8,201.5 542.7,201.7 C543.7,201.9 544.1,203.0 545.0,203.8 C545.9,204.6 546.9,205.7 548.0,206.3 C549.1,206.9 550.3,207.6 551.4,207.3 C552.5,207.1 553.3,206.4 554.4,204.8 C555.5,203.2 556.7,200.1 557.9,197.8 C559.1,195.5 560.3,192.6 561.4,190.9 C562.5,189.2 563.6,187.9 564.3,187.9 C565.0,187.9 565.2,188.9 565.8,190.9 C566.4,192.9 567.0,197.3 567.8,199.8 C568.6,202.3 569.8,205.1 570.8,205.8 C571.8,206.5 572.7,205.0 573.7,203.8 C574.7,202.6 575.6,200.4 576.7,198.8 C577.8,197.2 579.1,195.0 580.2,194.4 C581.3,193.8 582.1,194.8 583.2,195.4 C584.3,196.0 585.5,197.6 586.6,197.8 C587.7,198.0 588.7,197.7 589.6,196.4 C590.5,195.1 591.3,192.6 592.1,189.9 C592.9,187.2 593.9,183.0 594.6,180.0 C595.3,177.0 595.7,174.7 596.5,172.0 C597.3,169.3 598.2,166.3 599.4,163.8 C600.6,161.3 602.6,157.8 603.7,157.0 C604.8,156.2 605.4,156.7 606.2,158.7 C607.1,160.7 607.8,165.5 608.8,168.9 C609.8,172.3 611.1,176.3 612.2,179.0 C613.3,181.7 614.5,183.9 615.6,185.0 C616.7,186.1 617.9,186.8 619.0,185.8 C620.1,184.8 621.2,181.7 622.3,179.0 C623.4,176.3 624.4,171.9 625.7,169.7 C627.0,167.4 628.7,166.0 630.0,165.5 C631.3,165.0 632.0,165.8 633.6,166.5 C635.2,167.2 637.8,169.0 639.8,169.6 C641.8,170.2 644.5,170.1 645.5,170.2" stroke="rgb(140,96,48)" stroke-width="2.0"/>
<path d="M437.3,205.1 C437.7,205.7 439.0,207.4 439.9,208.9 C440.8,210.4 441.3,213.0 442.4,214.0 C443.5,215.0 445.1,214.4 446.7,214.8 C448.3,215.2 450.1,215.5 451.8,216.5 C453.5,217.5 455.2,219.5 456.9,220.8 C458.6,222.1 460.6,224.1 462.0,224.5 C463.4,224.9 464.3,224.5 465.4,223.3 C466.5,222.1 467.4,220.1 468.8,217.4 C470.2,214.7 472.2,210.6 473.9,207.2 C475.6,203.8 477.0,199.9 479.0,197.0 C481.0,194.1 483.6,191.1 485.7,189.9 C487.8,188.7 489.6,188.7 491.3,189.9 C493.0,191.1 494.4,193.4 495.6,197.0 C496.8,200.6 497.5,205.5 498.4,211.2 C499.3,216.9 500.2,224.9 501.2,231.0 C502.1,237.1 503.3,242.8 504.1,248.0 C504.9,253.2 505.5,258.2 506.1,262.2 C506.7,266.2 507.6,270.4 507.9,272.0" stroke="rgb(236,50,140)" stroke-width="2.0"/>
<path d="M432.7,146.1 C433.1,147.4 434.6,152.1 435.3,153.8 C436.0,155.5 436.3,156.6 437.0,156.3 C437.7,156.0 438.5,153.7 439.5,152.1 C440.5,150.5 441.8,147.7 442.9,147.0 C444.0,146.3 445.3,147.0 446.3,147.8 C447.3,148.7 448.2,150.2 448.9,152.1 C449.6,153.9 450.0,156.5 450.6,158.9 C451.2,161.3 452.0,165.2 452.3,166.5" stroke="rgb(226,122,38)" stroke-width="2.0"/>
<path d="M433.6,141.9 C433.8,143.3 434.3,148.1 434.9,150.4 C435.5,152.7 436.2,155.1 437.0,155.5 C437.8,155.9 438.6,153.8 439.5,152.9 C440.4,152.1 441.1,150.5 442.1,150.4 C443.1,150.3 444.5,150.7 445.5,152.1 C446.5,153.5 447.3,156.1 448.0,158.9 C448.7,161.7 449.2,165.4 449.7,169.1 C450.2,172.8 450.8,177.8 451.1,181.0 C451.5,184.2 451.5,185.3 451.8,188.5 C452.1,191.7 452.8,197.2 453.1,200.4 C453.4,203.7 453.4,206.7 453.5,208.0" stroke="rgb(255,45,235)" stroke-width="2.0"/>
<path d="M440.3,104.6 C441.2,104.0 444.3,101.3 445.9,101.3 C447.5,101.3 448.5,102.8 449.8,104.6 C451.1,106.4 452.2,111.7 453.8,112.0 C455.4,112.3 457.8,107.8 459.7,106.6 C461.6,105.4 463.6,104.8 465.0,104.8 C466.4,104.8 467.3,106.8 468.4,106.5 C469.5,106.2 470.7,105.2 471.8,103.1 C472.9,101.0 474.2,96.7 475.2,93.7 C476.2,90.7 476.9,87.0 477.8,85.2 C478.7,83.4 479.6,82.7 480.3,82.7 C481.0,82.7 481.4,83.4 482.0,85.2 C482.6,87.0 483.1,90.6 483.7,93.7 C484.3,96.8 484.7,100.6 485.4,103.9 C486.1,107.2 486.9,110.3 488.0,113.3 C489.1,116.3 490.6,119.7 492.2,121.8 C493.8,123.9 495.7,125.2 497.3,126.1 C498.9,127.0 500.3,127.8 501.6,127.4 C502.9,127.1 503.9,125.9 505.0,124.0 C506.1,122.1 506.9,117.3 507.9,115.8 C508.9,114.3 509.9,114.0 510.9,114.8 C511.9,115.6 512.9,120.3 513.9,120.8 C514.9,121.3 516.1,118.9 516.9,117.8 C517.7,116.7 518.1,114.2 518.8,114.2 C519.4,114.2 520.2,115.2 520.8,117.8 C521.4,120.4 522.1,126.0 522.6,130.0 C523.1,134.0 523.3,137.8 523.6,141.9 C523.9,146.0 523.9,151.2 524.6,154.8 C525.3,158.5 526.5,160.5 527.6,163.8 C528.8,167.1 529.9,171.7 531.5,174.6 C533.1,177.5 535.5,179.7 537.5,181.3 C539.5,182.9 541.5,183.8 543.4,184.4 C545.3,185.0 547.3,185.0 549.0,184.7 C550.7,184.4 552.2,183.6 553.5,182.8 C554.8,182.1 555.0,181.7 557.0,180.2 C559.0,178.7 562.7,175.8 565.5,174.0 C568.3,172.2 570.9,170.8 574.0,169.7 C577.1,168.6 580.7,167.8 584.1,167.2 C587.5,166.5 590.9,166.1 594.3,165.8 C597.7,165.5 601.4,165.5 604.5,165.5 C607.6,165.5 610.2,165.5 613.0,165.8 C615.8,166.1 620.1,167.2 621.5,167.5" stroke="rgb(236,30,36)" stroke-width="2.3"/>
<path d="M440.3,104.0 C441.2,103.8 444.3,102.1 445.9,102.7 C447.5,103.3 448.5,105.8 449.8,107.6 C451.1,109.3 452.2,113.2 453.8,113.2 C455.4,113.2 457.8,109.4 459.7,107.6 C461.6,105.8 463.4,103.2 465.0,102.2 C466.6,101.2 468.0,101.8 469.3,101.4 C470.6,101.0 471.7,100.7 472.7,99.7 C473.7,98.7 474.2,97.0 475.2,95.4 C476.2,93.8 477.5,92.1 478.6,90.3 C479.7,88.5 481.0,85.8 482.0,84.4 C483.0,83.0 483.9,82.0 484.6,82.1 C485.3,82.2 485.7,82.7 486.3,85.2 C486.9,87.7 487.4,92.6 488.0,97.1 C488.6,101.6 489.0,107.9 489.7,112.4 C490.4,117.0 491.3,121.4 492.2,124.4 C493.1,127.4 493.8,129.5 494.8,130.3 C495.8,131.2 497.1,130.2 498.2,129.5 C499.3,128.8 500.5,127.2 501.6,126.1 C502.7,125.0 504.0,124.0 505.0,122.7 C506.0,121.4 506.5,119.3 507.5,118.0 C508.5,116.7 509.7,115.4 510.9,114.8 C512.1,114.2 513.6,113.9 514.9,114.2 C516.2,114.5 517.6,115.5 518.8,116.8 C519.9,118.0 520.8,119.6 521.8,121.7 C522.8,123.8 523.6,126.7 524.8,129.7 C526.0,132.7 527.3,136.9 528.8,139.6 C530.3,142.2 531.9,143.9 533.7,145.6 C535.5,147.2 537.5,147.3 539.7,149.5 C541.9,151.7 544.5,156.2 546.8,158.7 C549.1,161.2 551.8,163.2 553.6,164.6 C555.4,165.9 556.5,167.1 557.8,166.8 C559.1,166.5 560.2,163.7 561.2,162.9 C562.2,162.1 562.7,161.4 563.8,162.1 C564.9,162.8 566.5,165.6 568.0,167.2 C569.5,168.8 571.3,170.5 573.1,171.4 C574.9,172.3 576.6,172.4 579.0,172.6 C581.4,172.8 584.7,172.9 587.5,172.8 C590.3,172.7 593.3,172.1 596.0,171.9 C598.7,171.7 601.7,171.2 603.7,171.4 C605.7,171.6 606.4,172.0 607.9,173.1 C609.4,174.2 611.3,176.4 613.0,178.2 C614.7,180.0 616.6,182.2 618.1,184.1 C619.6,186.0 621.6,188.7 622.3,189.6" stroke="rgb(30,30,240)" stroke-width="2.3"/>
</g>
<text x="594.6" y="103.1" style='font-family:"Liberation Sans",Arial,sans-serif;font-size:12.0px;font-weight:bold;fill:#111'>Melanin</text>
<text x="532.7" y="146.5" style='font-family:"Liberation Sans",Arial,sans-serif;font-size:11.8px;font-weight:bold;fill:rgb(30,30,240)'>HbR</text>
<text x="485.5" y="151.9" style='font-family:"Liberation Sans",Arial,sans-serif;font-size:11.8px;font-weight:bold;fill:rgb(236,30,36)'>HbO<tspan dy="3" style="font-size:7.8px">2</tspan></text>
<text x="450.6" y="150.4" style='font-family:"Liberation Sans",Arial,sans-serif;font-size:11.8px;font-weight:bold;fill:rgb(226,122,38)'>DNA</text>
<text x="456.5" y="181.8" style='font-family:"Liberation Sans",Arial,sans-serif;font-size:11.8px;font-weight:bold;fill:rgb(255,45,235)'>RNA</text>
<text x="506.7" y="187.9" style='font-family:"Liberation Sans",Arial,sans-serif;font-size:11.8px;font-weight:bold;fill:rgb(140,96,48)'>Lipid</text>
<text x="456.0" y="236.9" style='font-family:"Liberation Sans",Arial,sans-serif;font-size:11.8px;font-weight:bold;fill:rgb(236,50,140)'>Bilirubin</text>
<text x="517.8" y="237.7" style='font-family:"Liberation Sans",Arial,sans-serif;font-size:11.8px;font-weight:bold;fill:rgb(196,106,38)'>MbO<tspan dy="3" style="font-size:7.8px">2</tspan></text>
<text x="616.5" y="242.2" style='font-family:"Liberation Sans",Arial,sans-serif;font-size:11.8px;font-weight:bold;fill:rgb(242,160,70)'>MbR</text>
<text x="441.6" y="297.9" style='font-family:"Liberation Sans",Arial,sans-serif;font-size:11.8px;font-weight:bold;fill:rgb(38,108,30)'>Water</text>
<path d="M616.4,111.1 L610.2,119.6" stroke="#111" stroke-width="1.50" fill="none"/><path d="M605.5,126.1 L607.2,117.4 L613.2,121.8 Z" fill="#111"/>
<path d="M555.6,143.1 L570.6,146 L551.5,153.2" stroke="rgb(30,30,240)" stroke-width="1.5" fill="none" stroke-linejoin="round"/>
<path d="M556.0,151.6 L551.8,153.1" stroke="rgb(30,30,240)" stroke-width="1.50" fill="none"/><path d="M544.8,155.7 L550.6,149.7 L553.1,156.5 Z" fill="rgb(30,30,240)"/>
<path d="M505.7,152.8 L515.3,161.3 L517.5,159.2" stroke="rgb(236,30,36)" stroke-width="1.5" fill="none" stroke-linejoin="round"/>
<path d="M515.3,161.3 L517.5,159.1" stroke="rgb(236,30,36)" stroke-width="1.50" fill="none"/><path d="M523.2,153.4 L520.2,161.7 L514.9,156.4 Z" fill="rgb(236,30,36)"/>
<path d="M521.1,191.9 L525.8,195.7" stroke="rgb(140,96,48)" stroke-width="1.50" fill="none"/><path d="M532.0,200.7 L523.4,198.6 L528.1,192.8 Z" fill="rgb(140,96,48)"/>
<path d="M484.8,225.5 L479.4,219.9" stroke="rgb(236,50,140)" stroke-width="1.50" fill="none"/><path d="M473.8,214.2 L482.1,217.3 L476.7,222.5 Z" fill="rgb(236,50,140)"/>
<path d="M532.2,225.6 L537.7,223.2" stroke="rgb(196,106,38)" stroke-width="1.50" fill="none"/><path d="M545.0,219.9 L539.2,226.6 L536.2,219.7 Z" fill="rgb(196,106,38)"/>
<path d="M629.5,231.5 L624.4,225.8" stroke="rgb(242,160,70)" stroke-width="1.50" fill="none"/><path d="M619.1,219.8 L627.2,223.3 L621.6,228.3 Z" fill="rgb(242,160,70)"/>
</svg>
</body></html>
